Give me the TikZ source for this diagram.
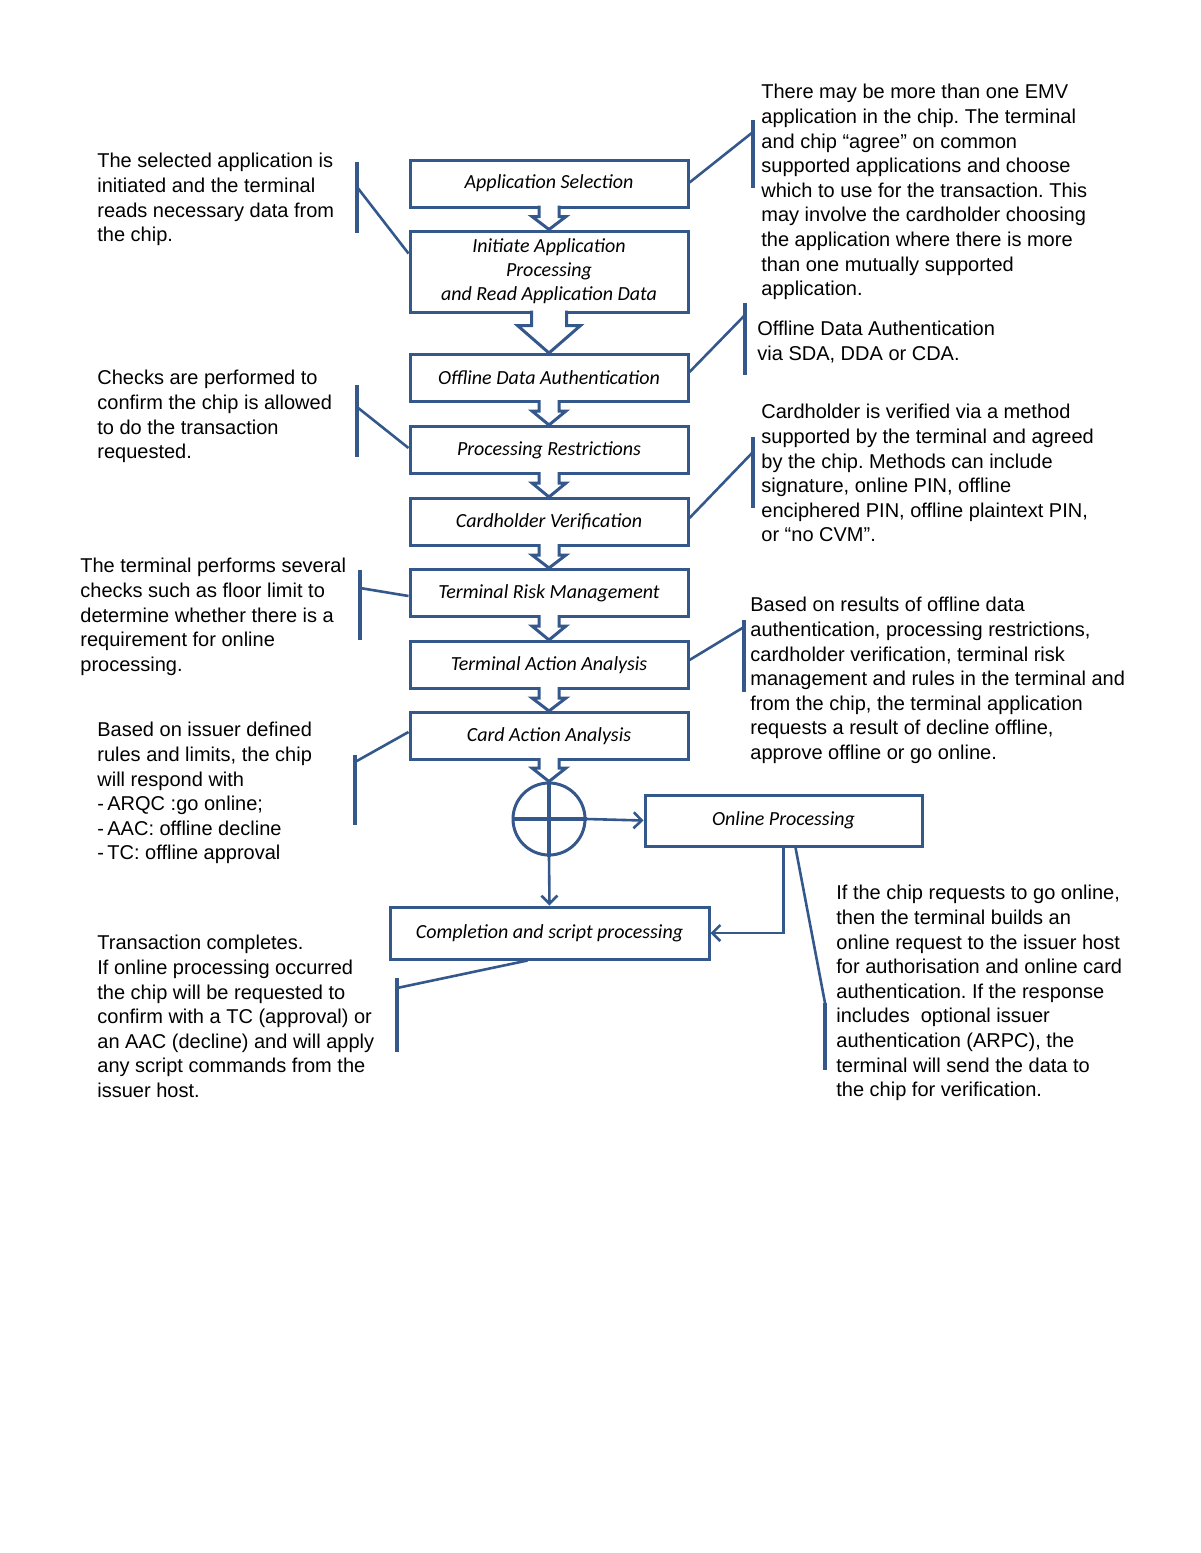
\documentclass[tikz,border=0pt]{standalone}
\usepackage{fontspec}
\setmainfont{Liberation Sans}
\newfontfamily\boxfont{Carlito}
\usepackage{tikz}
\usetikzlibrary{calc,arrows.meta}
\definecolor{emvblue}{RGB}{52,88,140}
\frenchspacing

\begin{document}
\begin{tikzpicture}[x=0.5pt,y=-0.5pt,
  box/.style={draw=emvblue, line width=1.5pt, fill=white, minimum width=139pt, minimum height=23.5pt,
    inner sep=1pt, align=center, font=\boxfont\itshape\fontsize{10}{12}\selectfont},
  note/.style={anchor=north west, inner sep=0pt, align=left, font=\fontsize{10}{12.3}\selectfont},
  bar/.style={emvblue, line width=2pt},
  lead/.style={emvblue, line width=1.3pt},
  blockarr/.style={draw=emvblue, line width=1.5pt, fill=white, line join=miter},
  flow/.style={emvblue, line width=1.3pt, -{Straight Barb[length=4pt,width=8pt]}}]

\useasboundingbox (0,0) rectangle (1200,1553);

% flow of boxes
\node[box] (as) at (549,183.5) {Application Selection};
\node[box, minimum height=40.5pt] (ia) at (549,271.5) {Initiate Application\\Processing\\and Read Application Data};
\node[box] (oda) at (549,378) {Offline Data Authentication};
\node[box] (pr) at (549,450) {Processing Restrictions};
\node[box] (cv) at (549,522) {Cardholder Verification};
\node[box] (trm) at (549,593) {Terminal Risk Management};
\node[box] (taa) at (549,665) {Terminal Action Analysis};
\node[box] (caa) at (549,736) {Card Action Analysis};
\node[draw=emvblue, line width=1.5pt, circle, minimum size=36pt, inner sep=0pt] (dec) at (549,819) {};
\node[box, minimum width=138.5pt, minimum height=25.5pt] (op) at (783.5,820.5) {Online Processing};
\node[box, minimum width=159.5pt, minimum height=26pt] (cmp) at (549.5,933) {Completion and script processing};

% block arrows
\draw[blockarr] ($(as.south)+(-10,-3)$) -- ($(as.south)+(-10,8)$) -- ($(as.south)+(-17,8)$) -- (ia.north) -- ($(as.south)+(17,8)$) -- ($(as.south)+(10,8)$) -- ($(as.south)+(10,-3)$);
\draw[blockarr] ($(ia.south)+(-17.5,-3)$) -- ($(ia.south)+(-17.5,12)$) -- ($(ia.south)+(-31.5,12)$) -- (oda.north) -- ($(ia.south)+(31.5,12)$) -- ($(ia.south)+(17.5,12)$) -- ($(ia.south)+(17.5,-3)$);
\draw[blockarr] ($(oda.south)+(-10,-3)$) -- ($(oda.south)+(-10,8)$) -- ($(oda.south)+(-17,8)$) -- (pr.north) -- ($(oda.south)+(17,8)$) -- ($(oda.south)+(10,8)$) -- ($(oda.south)+(10,-3)$);
\draw[blockarr] ($(pr.south)+(-10,-3)$) -- ($(pr.south)+(-10,8)$) -- ($(pr.south)+(-17,8)$) -- (cv.north) -- ($(pr.south)+(17,8)$) -- ($(pr.south)+(10,8)$) -- ($(pr.south)+(10,-3)$);
\draw[blockarr] ($(cv.south)+(-10,-3)$) -- ($(cv.south)+(-10,8)$) -- ($(cv.south)+(-17,8)$) -- (trm.north) -- ($(cv.south)+(17,8)$) -- ($(cv.south)+(10,8)$) -- ($(cv.south)+(10,-3)$);
\draw[blockarr] ($(trm.south)+(-10,-3)$) -- ($(trm.south)+(-10,8)$) -- ($(trm.south)+(-17,8)$) -- (taa.north) -- ($(trm.south)+(17,8)$) -- ($(trm.south)+(10,8)$) -- ($(trm.south)+(10,-3)$);
\draw[blockarr] ($(taa.south)+(-10,-3)$) -- ($(taa.south)+(-10,8)$) -- ($(taa.south)+(-17,8)$) -- (caa.north) -- ($(taa.south)+(17,8)$) -- ($(taa.south)+(10,8)$) -- ($(taa.south)+(10,-3)$);
\draw[blockarr] ($(caa.south)+(-10,-3)$) -- ($(caa.south)+(-10,7)$) -- ($(caa.south)+(-17,7)$) -- (dec.north) -- ($(caa.south)+(17,7)$) -- ($(caa.south)+(10,7)$) -- ($(caa.south)+(10,-3)$);

% decision and online branch
\draw[emvblue, line width=2pt] (dec.north) -- (dec.south);
\draw[emvblue, line width=2pt] (dec.west) -- (dec.east);
\draw[flow] (dec.east) -- (op.west);
\draw[flow] (dec.south) -- (cmp.north);
\draw[flow] (op.south) |- (cmp.east);

% notes on the left
\node[note] (n1) at (97,153) {The selected application is\\initiated and the terminal\\reads necessary data from\\the chip.};
\node[note] (n2) at (97,370) {Checks are performed to\\confirm the chip is allowed\\to do the transaction\\requested.};
\node[note] (n3) at (80,558) {The terminal performs several\\checks such as floor limit to\\determine whether there is a\\requirement for online\\processing.};
\node[note] (n4) at (97,722) {Based on issuer defined\\rules and limits, the chip\\will respond with\\-\,ARQC :go online;\\-\,AAC: offline decline\\-\,TC: offline approval};
\node[note] (n5) at (97,935) {Transaction completes.\\If online processing occurred\\the chip will be requested to\\confirm with a TC (approval) or\\an AAC (decline) and will apply\\any script commands from the\\issuer host.};

% notes on the right
\node[note] (n6) at (761,84) {There may be more than one EMV\\application in the chip. The terminal\\and chip “agree” on common\\supported applications and choose\\which to use for the transaction. This\\may involve the cardholder choosing\\the application where there is more\\than one mutually supported\\application.};
\node[note] (n7) at (757,321) {Offline Data Authentication\\via SDA, DDA or CDA.};
\node[note] (n8) at (761,404) {Cardholder is verified via a method\\supported by the terminal and agreed\\by the chip. Methods can include\\signature, online PIN, offline\\enciphered PIN, offline plaintext PIN,\\or “no CVM”.};
\node[note] (n9) at (750,597) {Based on results of offline data\\authentication, processing restrictions,\\cardholder verification, terminal risk\\management and rules in the terminal and\\from the chip, the terminal application\\requests a result of decline offline,\\approve offline or go online.};
\node[note] (n10) at (836,885) {If the chip requests to go online,\\then the terminal builds an\\online request to the issuer host\\for authorisation and online card\\authentication. If the response\\includes\ \ optional issuer\\authentication (ARPC), the\\terminal will send the data to\\the chip for verification.};

% brackets and leader lines
\coordinate (k1) at (357,187);
\draw[bar] (357,162) -- (357,233);
\draw[lead] (k1) -- ($(ia.west)+(0,-18)$);
\coordinate (k2) at (357,407);
\draw[bar] (357,385) -- (357,457);
\draw[lead] (k2) -- ($(pr.west)+(0,-2)$);
\coordinate (k3) at (360,588);
\draw[bar] (360,570) -- (360,640);
\draw[lead] (k3) -- ($(trm.west)+(0,3)$);
\coordinate (k4) at (355,762);
\draw[bar] (355,755) -- (355,825);
\draw[lead] (k4) -- ($(caa.west)+(0,-4)$);
\coordinate (k5) at (397,988);
\draw[bar] (397,978) -- (397,1052);
\draw[lead] (k5) -- ($(cmp.south)+(-22,0)$);
\coordinate (k6) at (753,132);
\draw[bar] (753,120) -- (753,188);
\draw[lead] (k6) -- ($(as.east)+(0,-1)$);
\coordinate (k7) at (745,315);
\draw[bar] (745,303) -- (745,375);
\draw[lead] (k7) -- ($(oda.east)+(0,-6)$);
\coordinate (k8) at (753,452);
\draw[bar] (753,437) -- (753,508);
\draw[lead] (k8) -- ($(cv.east)+(0,-4)$);
\coordinate (k9) at (744,627);
\draw[bar] (744,620) -- (744,692);
\draw[lead] (k9) -- ($(taa.east)+(0,-5)$);
\coordinate (k10) at (825,1003);
\draw[bar] (825,1003) -- (825,1070);
\draw[lead] (k10) -- ($(op.south)+(12,0)$);

\end{tikzpicture}
\end{document}
